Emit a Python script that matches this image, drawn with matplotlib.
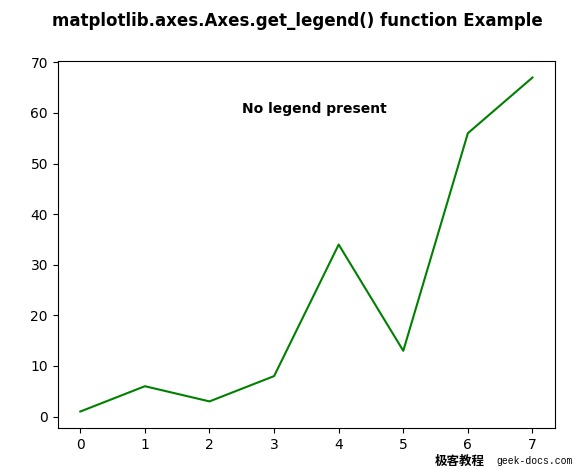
import matplotlib
matplotlib.use("Agg")
import matplotlib.pyplot as plt

xs = [0, 1, 2, 3, 4, 5, 6, 7]
ys = [1, 6, 3, 8, 34, 13, 56, 67]

fig, ax = plt.subplots(figsize=(5.77, 4.68), dpi=100)
fig.subplots_adjust(left=0.1, right=0.962, top=0.87, bottom=0.085)

ax.plot(xs, ys, color="green")
ax.text(2.5, 60, "No legend present", fontweight="bold")

fig.suptitle("matplotlib.axes.Axes.get_legend() function Example",
             fontweight="bold", x=0.516, y=0.975)

# watermark in the corner
fig.text(0.753, 0.006, "极客教程", fontsize=9, fontweight="bold", color="black",
         family=["Noto Sans CJK SC", "DejaVu Sans"])
fig.text(0.861, 0.009, "geek-docs.com", fontsize=7, color="black",
         family="Liberation Mono")

fig.savefig("out.png", dpi=100)
